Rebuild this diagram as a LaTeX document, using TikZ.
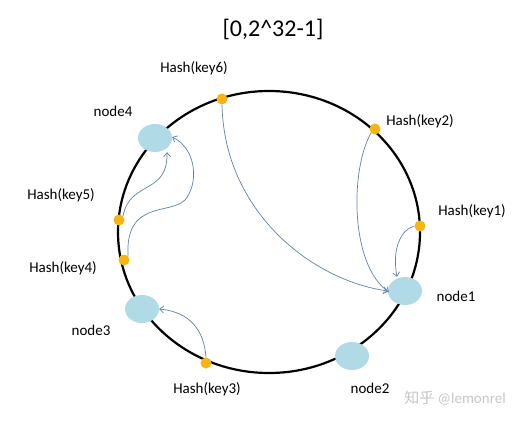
\documentclass[tikz,border=0pt]{standalone}
\usepackage{fontspec}
\setmainfont{Carlito}
\newfontfamily\cjk{Noto Sans CJK SC}
\usetikzlibrary{arrows.meta}
\definecolor{ringnode}{RGB}{176,218,230}
\definecolor{keydot}{RGB}{247,181,20}
\definecolor{arrowc}{RGB}{95,130,170}
\tikzset{
  ring/.style={draw=black,line width=2.2pt},
  server/.style={ellipse,fill=ringnode,minimum width=34pt,minimum height=28pt,inner sep=0pt},
  keypt/.style={circle,fill=keydot,minimum size=11pt,inner sep=0pt},
  lbl/.style={font=\fontsize{15}{17}\selectfont,inner sep=0pt},
  map/.style={draw=arrowc,line width=0.7pt,-{Straight Barb[length=4pt,width=7pt]}}
}
\usetikzlibrary{shapes.geometric}
\begin{document}
\begin{tikzpicture}[x=1pt,y=-1pt]
\useasboundingbox (0,0) rectangle (526,422);
\fill[white] (0,0) rectangle (526,422);
\draw[ring] (269,232) ellipse [x radius=151, y radius=141];
% servers
\node[server] (n4) at (155,138) {};
\node[server] (n1) at (405,291) {};
\node[server] (n2) at (352,356) {};
\node[server] (n3) at (142,309) {};
% keys
\node[keypt] (k6) at (222,99) {};
\node[keypt] (k2) at (375,129) {};
\node[keypt] (k1) at (420,226) {};
\node[keypt] (k5) at (119,220) {};
\node[keypt] (k4) at (124,260) {};
\node[keypt] (k3) at (206,363) {};
% labels
\node[font=\fontsize{24}{28}\selectfont,inner sep=0pt] (title) at (273,29) {[0,2\^{}32-1]};
\node[lbl] (l6) at (194,68) {Hash(key6)};
\node[lbl] (l2) at (420,121) {Hash(key2)};
\node[lbl] (l1) at (472,211) {Hash(key1)};
\node[lbl] (l5) at (61,195) {Hash(key5)};
\node[lbl] (l4) at (63,268) {Hash(key4)};
\node[lbl] (l3) at (207,389) {Hash(key3)};
\node[lbl] (ln4) at (113,111) {node4};
\node[lbl] (ln1) at (456,296) {node1};
\node[lbl] (ln3) at (91,330) {node3};
\node[lbl] (ln2) at (370,388) {node2};
\node[font=\fontsize{15}{17}\selectfont,text=black!22,inner sep=0pt] (wm) at (455,398) {{\cjk 知乎} @lemonrel};
% mappings
\draw[map] (k6.south) .. controls (224,210) and (310,280) .. (n1.west);
\draw[map] (k2.south west) .. controls (350,170) and (350,265) .. ([xshift=1pt,yshift=-1pt]n1.west);
\draw[map] (k1.west) .. controls (400,230) and (392,250) .. ([xshift=-8pt]n1.north);
\draw[map] (k5.north east) .. controls (130,180) and (168,195) .. ([xshift=12pt]n4.south);
\draw[map] (k4.north east) .. controls (125,200) and (170,215) .. (185,200) .. controls (198,185) and (198,150) .. ([yshift=1pt]n4.east);
\draw[map] (k3.north) .. controls (204,330) and (190,312) .. (n3.east);
\end{tikzpicture}
\end{document}
